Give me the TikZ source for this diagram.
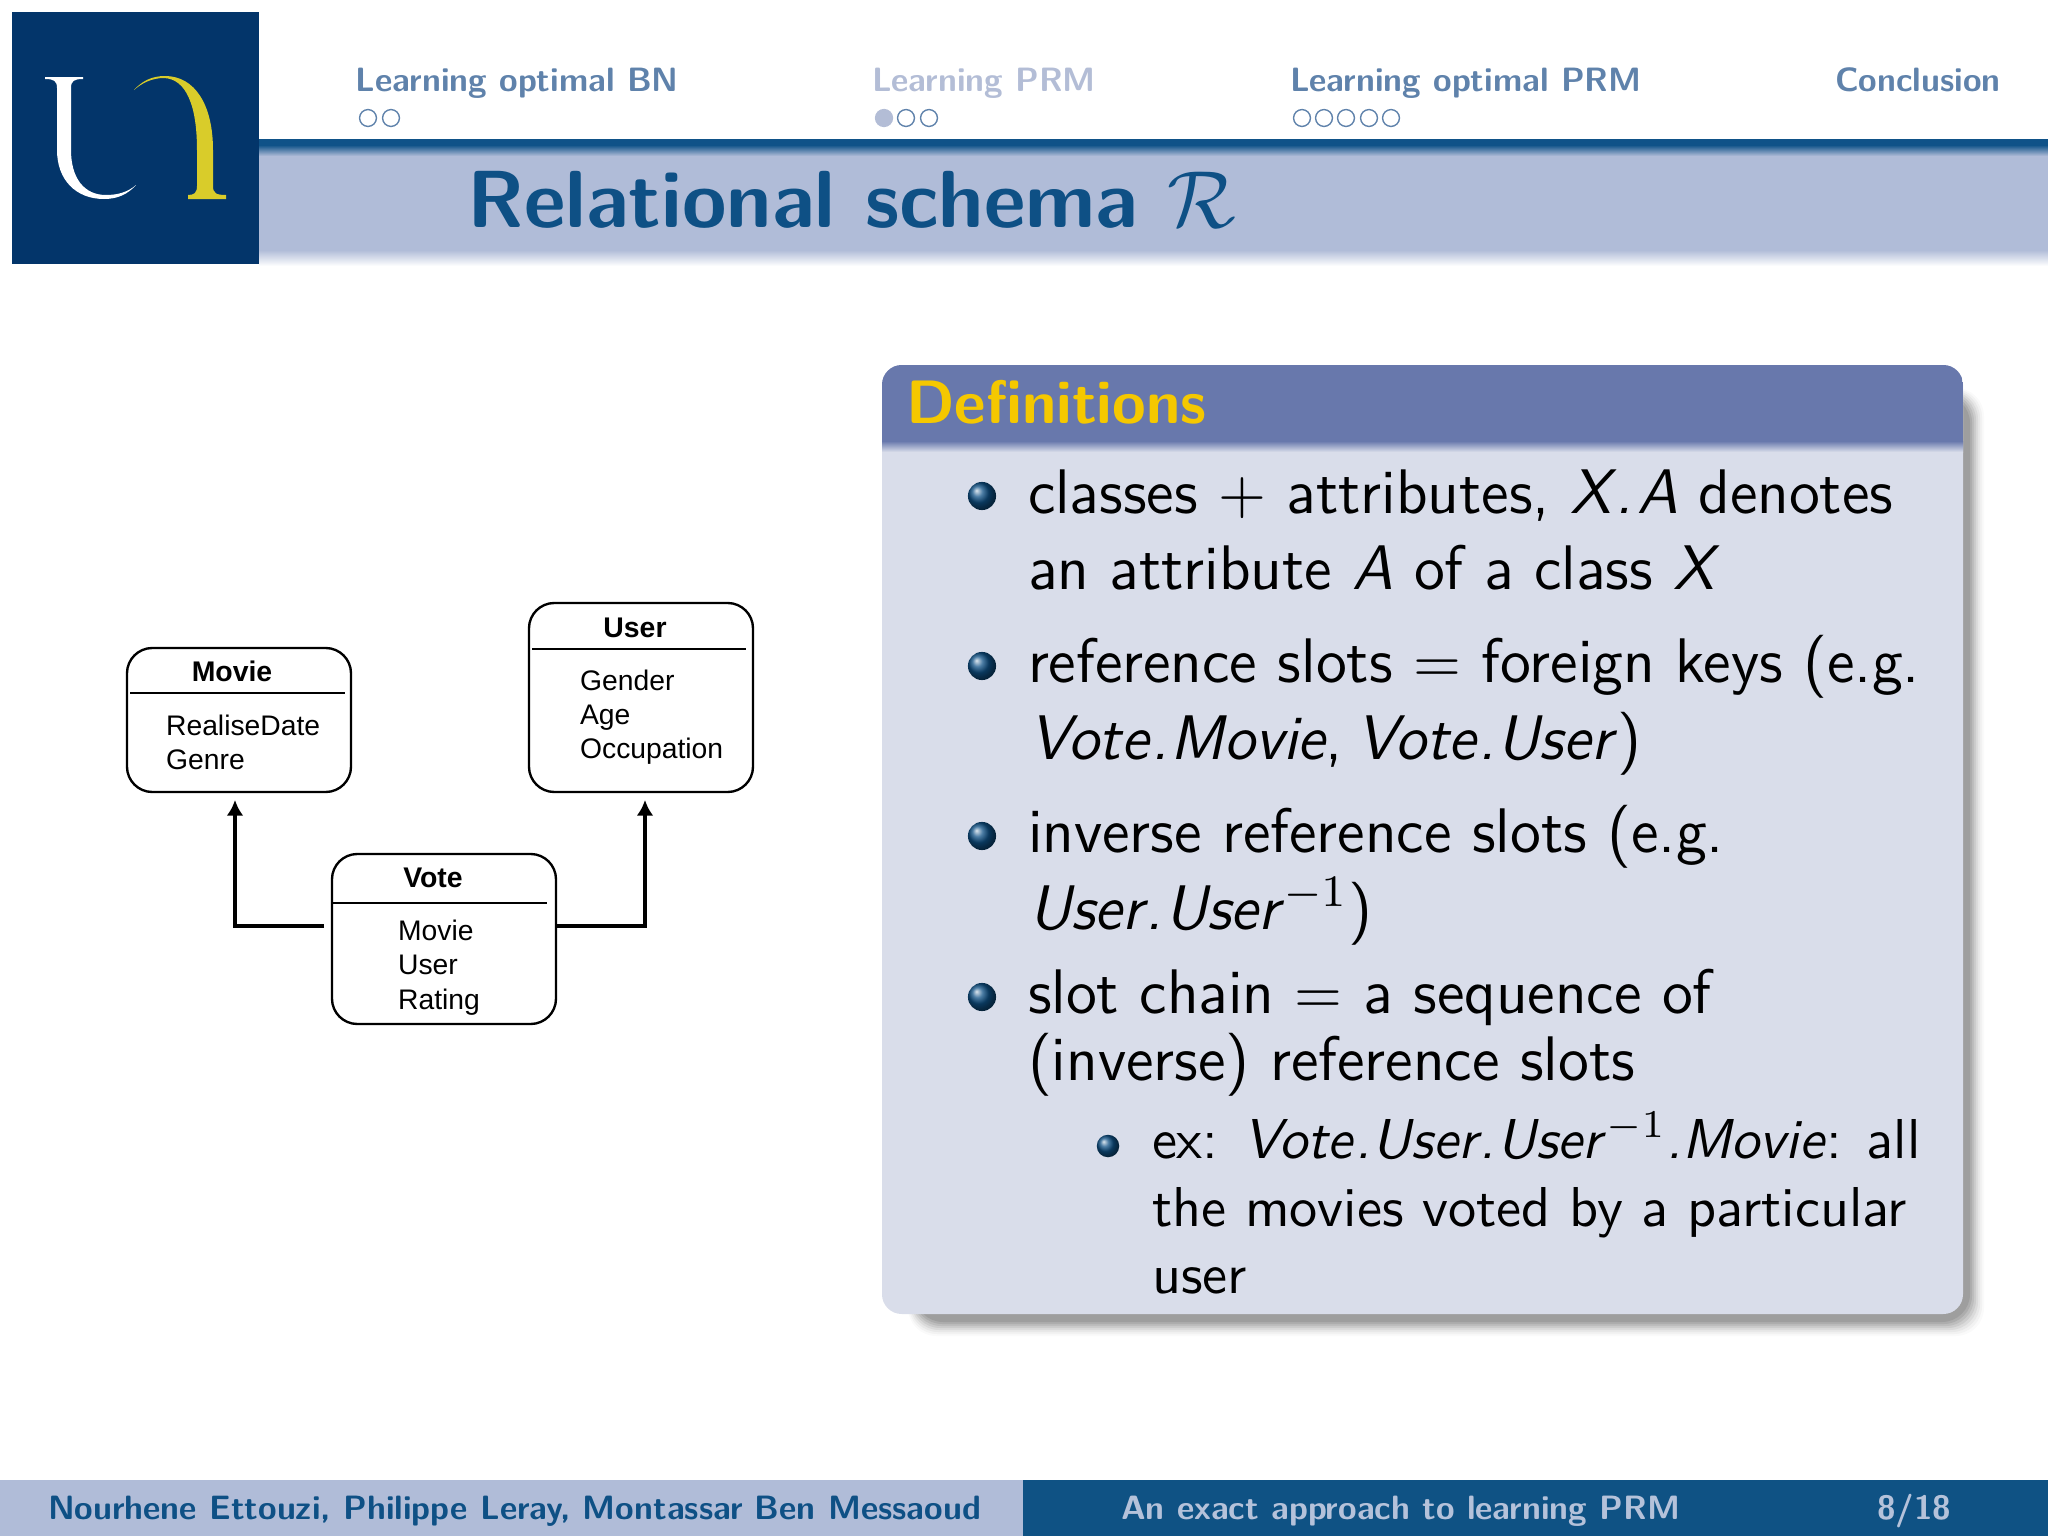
\documentclass[tikz,border=0pt]{standalone}
\usepackage{fontspec}
\newfontfamily\arialf{Liberation Sans}
\usetikzlibrary{arrows.meta,calc,fadings}
\definecolor{logoblue}{HTML}{03356A}
\definecolor{bandc}{HTML}{B0BCD8}
\definecolor{bardark}{HTML}{0F5288}
\definecolor{titlec}{HTML}{0E5085}
\definecolor{navc}{HTML}{5F82AB}
\definecolor{navfade}{HTML}{B3BDD6}
\definecolor{blockh}{HTML}{6878AC}
\definecolor{blockb}{HTML}{D9DDEA}
\definecolor{defc}{HTML}{F5C800}
\definecolor{logoy}{HTML}{D9CC2A}
\definecolor{footr}{HTML}{0F5284}
\definecolor{footl}{HTML}{B5C2DA}
\newcommand{\sz}[1]{\fontsize{#1}{#1}\selectfont}
\newcommand{\itx}[1]{\textsl{#1}}
\newcommand{\dk}{\kern.04em.\kern.04em}
\tikzset{
 x=0.0625mm,y=-0.0625mm,
 txt/.style={anchor=base west,inner sep=0pt,outer sep=0pt,font=\sffamily\sz{11.2}},
 subtxt/.style={txt,font=\sffamily\sz{10}},
 navtxt/.style={anchor=base west,inner sep=0pt,outer sep=0pt,font=\sffamily\bfseries\sz{6},text=navc},
 foottxt/.style={anchor=base west,inner sep=0pt,outer sep=0pt,font=\sffamily\bfseries\sz{6}},
 umlbox/.style={draw,line width=0.42pt,rounded corners=4.5pt,inner sep=0pt,outer sep=0pt,anchor=north west},
 umlhead/.style={anchor=base,inner sep=0pt,font=\arialf\bfseries\sz{5.05}},
 umlattr/.style={anchor=base west,inner sep=0pt,font=\arialf\sz{5.03}},
 umlline/.style={line width=0.42pt},
 conn/.style={line width=0.7pt,-{Latex[length=2.8pt,width=3pt]}},
 navdot/.style={draw=navc,line width=0.25pt,circle,minimum size=3pt,inner sep=0pt},
 navdotf/.style={draw=navfade,line width=0.25pt,circle,minimum size=3pt,inner sep=0pt},
 ball/.style={circle,minimum size=5pt,inner sep=0pt,shading=ball,ball color=titlec},
 ballsub/.style={circle,minimum size=4pt,inner sep=0pt,shading=ball,ball color=titlec},
}
\begin{document}
\begin{tikzpicture}
\useasboundingbox (0,0) rectangle (2048,1536);
% header band
\fill[bandc] (259,155) rectangle (2048,253);
\fill[bardark] (259,139) rectangle (2048,145);
\shade[top color=bardark,bottom color=bandc] (259,145) rectangle (2048,156);
\shade[top color=bandc,bottom color=white] (259,250) rectangle (2048,266);
% logo
\fill[logoblue] (12,12) rectangle (259,264);
\fill[white] (45,77) -- (83,77) -- (83,79) .. controls (74,79) and (71,81) .. (71,88) -- (71,150)
 .. controls (71,178) and (84,195) .. (106,195) .. controls (118,195) and (128,192) .. (136,185)
 .. controls (128,194) and (118,199) .. (104,199) .. controls (76,199) and (57,180) .. (57,150)
 -- (57,88) .. controls (57,81) and (54,79) .. (45,79) -- cycle;
\fill[logoy] (134,90) .. controls (142,81) and (152,76) .. (165,76)
 .. controls (195,76) and (213,105) .. (213,150) -- (213,186) .. controls (213,193) and (216,195) .. (226,195)
 -- (226,199) -- (188,199) -- (188,195) .. controls (194,195) and (197,193) .. (197,186) -- (197,150)
 .. controls (197,105) and (186,79) .. (164,78) .. controls (152,78) and (142,83) .. (134,90) -- cycle;
% nav
\node[navtxt] (nav1) at (356,91) {Learning optimal BN};
\node[navtxt,text=navfade] (nav2) at (872,91) {Learning PRM};
\node[navtxt] (nav3) at (1290,91) {Learning optimal PRM};
\node[navtxt] (nav4) at (1835,91) {Conclusion};
\foreach \n/\x in {a/368,b/391,d/906,e/929,f/1302,g/1324,h/1346,i/1369,j/1391}{
  \node[navdot] (dot\n) at (\x,118) {};}
\node[navdotf,fill=navfade] (dotc) at (884,118) {};
% title
\node[anchor=base west,inner sep=0pt,text=titlec,font=\sffamily\bfseries\sz{14.4}] (title) at (466,228) {Relational schema};
\node[anchor=base west,inner sep=0pt,text=titlec,font=\sz{14.4}] (titleR) at (1166,228) {$\mathcal{R}$};
% UML
\node[umlbox,minimum width=224*0.0625mm,minimum height=144*0.0625mm] (movie) at (127,648) {};
\node[umlbox,minimum width=224*0.0625mm,minimum height=189*0.0625mm] (user) at (529,603) {};
\node[umlbox,minimum width=224*0.0625mm,minimum height=170*0.0625mm] (vote) at (332,854) {};
\draw[umlline] (130,693) -- (345,693);
\draw[umlline] (532,649) -- (746,649);
\draw[umlline] (333,903) -- (547,903);
\node[umlhead] (mh) at (232,681) {Movie};
\node[umlattr] (m1) at (165,735) {RealiseDate};
\node[umlattr] (m2) at (165,769) {Genre};
\node[umlhead] (uh) at (635,637) {User};
\node[umlattr] (u1) at (579,690) {Gender};
\node[umlattr] (u2) at (579,724) {Age};
\node[umlattr] (u3) at (579,758) {Occupation};
\node[umlhead] (vh) at (433,887) {Vote};
\node[umlattr] (v1) at (397,940) {Movie};
\node[umlattr] (v2) at (397,974) {User};
\node[umlattr] (v3) at (397,1009) {Rating};
\coordinate (vl) at ($(vote.west)+(-8,-13)$);
\coordinate (vr) at ($(vote.east)+(1,-13)$);
\coordinate (mt) at ($(movie.south)+(-4,8)$);
\coordinate (ut) at ($(user.south)+(4,8)$);
\draw[conn] (vl) -| (mt);
\draw[conn] (vr) -| (ut);
% block shadow
\foreach \i/\g in {0/98,1/95,2/91,3/86,4/80,5/74,6/68,7/62}{
  \fill[black!\the\numexpr 100-\g\relax!white,rounded corners=5pt]
    (908+\i,388+\i) rectangle (1984-2*\i,1336-2*\i);
}
% block
\fill[blockb,rounded corners=3.5pt] (882,365) rectangle (1963,1314);
\begin{scope}
\clip[rounded corners=3.5pt] (882,365) rectangle (1963,1314);
\fill[blockh] (882,365) rectangle (1963,442);
\shade[top color=blockh,bottom color=blockb] (882,441) rectangle (1963,452);
\end{scope}
\node[anchor=base west,inner sep=0pt,text=defc,font=\sffamily\bfseries\sz{10.9}] (deft) at (905,424) {Definitions};
\node[ball] (b1) at (982,496) {};
\node[ball] (b2) at (982,666) {};
\node[ball] (b3) at (982,836) {};
\node[ball] (b4) at (982,997) {};
\node[ballsub] (b5) at (1108,1146) {};
\node[txt] (t1a) at (1028,513) {classes $+$ attributes, \itx{X\kern.07em.\kern.07em A} denotes};
\node[txt] (t1b) at (1028,589) {an attribute \itx{A} of a class \itx{X}};
\node[txt] (t2a) at (1028,682) {reference slots $=$ foreign keys (e.g.};
\node[txt] (t2b) at (1029,759) {\itx{Vote\dk Movie},\kern.22em\itx{Vote\dk User})};
\node[txt] (t3a) at (1028,852) {inverse reference slots (e.g.};
\node[txt] (t3b) at (1029,929) {\itx{User\dk User}$^{-1}$)};
\node[txt] (t4a) at (1028,1013) {slot chain $=$ a sequence of};
\node[txt] (t4b) at (1028,1080) {(inverse) reference slots};
\node[subtxt] (t5a) at (1152,1158) {ex: \itx{Vote\dk User\dk User}$^{-1}$\itx{.Movie}: all};
\node[subtxt] (t5b) at (1152,1226) {the movies voted by a particular};
\node[subtxt] (t5c) at (1152,1293) {user};
% footer
\fill[bandc] (0,1480) rectangle (1023,1536);
\fill[footr] (1023,1480) rectangle (2048,1536);
\node[foottxt,text=titlec] (f1) at (48,1519) {Nourhene Ettouzi, Philippe Leray, Montassar Ben Messaoud};
\node[foottxt,text=footl] (f2) at (1121,1519) {An exact approach to learning PRM};
\node[foottxt,text=footl] (f3) at (1877,1519) {8/18};
\end{tikzpicture}
\end{document}
